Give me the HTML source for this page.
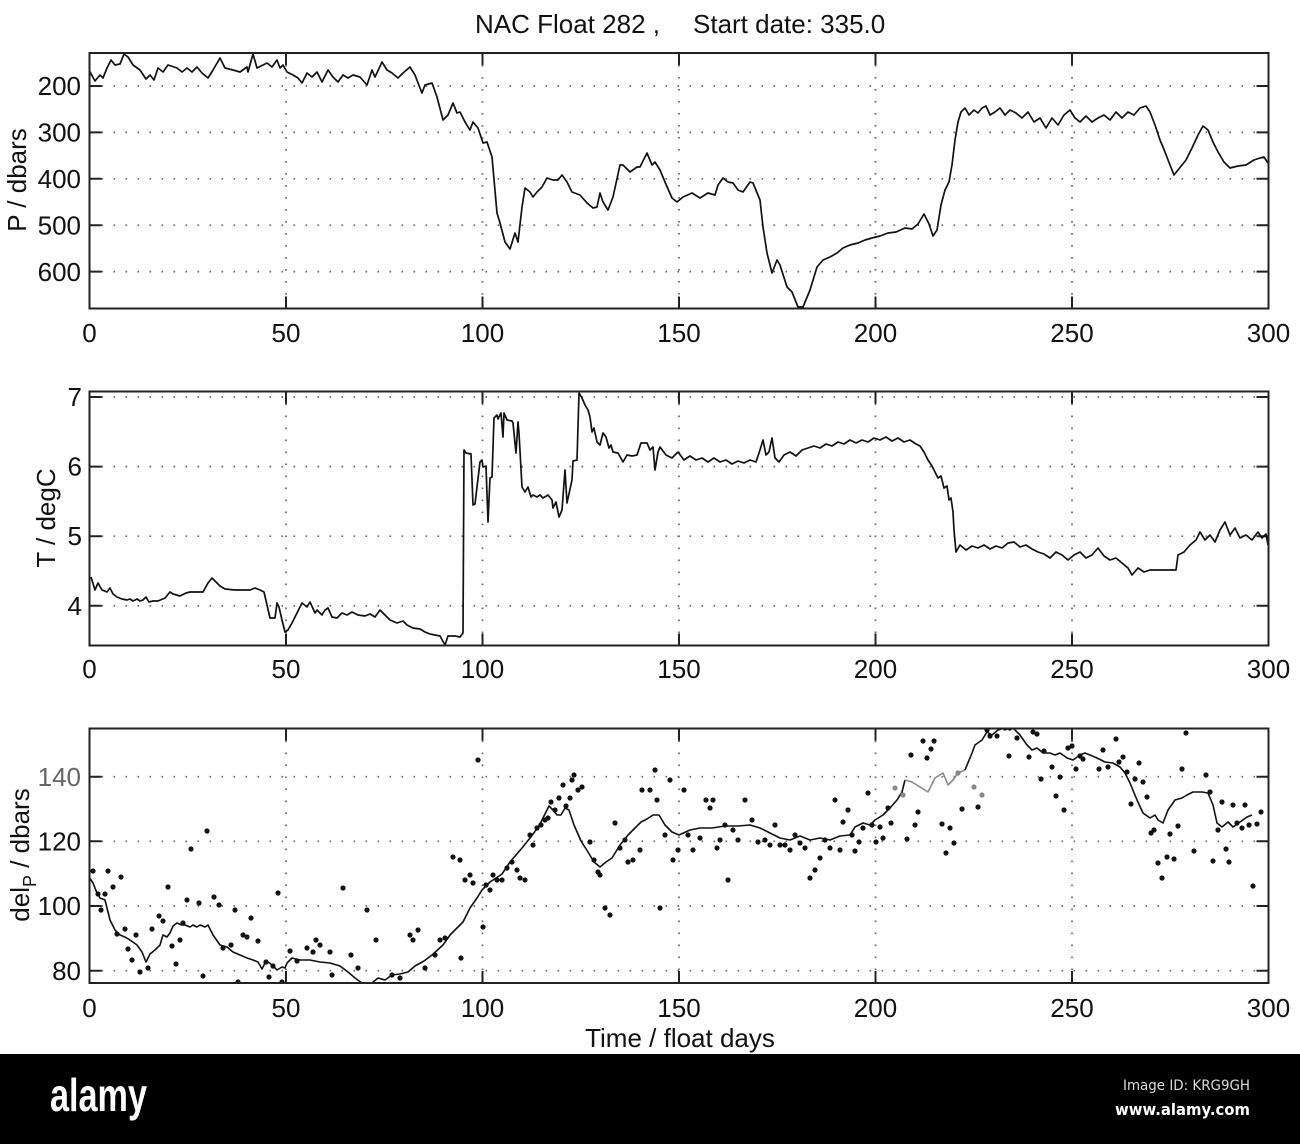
<!DOCTYPE html>
<html><head><meta charset="utf-8"><style>
html,body{margin:0;padding:0;background:#fff;}
svg{display:block;}
text{font-family:"Liberation Sans",Arial,sans-serif;fill:#111;}
</style></head><body>
<svg width="1300" height="1144" viewBox="0 0 1300 1144" xmlns="http://www.w3.org/2000/svg">
<defs>
<clipPath id="c1"><rect x="89.5" y="53" width="1179" height="255.5"/></clipPath>
<clipPath id="c2"><rect x="89.5" y="391.5" width="1179" height="254"/></clipPath>
<clipPath id="c3"><rect x="89.5" y="728.5" width="1179" height="254.5"/></clipPath>
</defs>
<rect width="1300" height="1144" fill="#fff"/>

<!-- Title -->
<text x="475" y="33" font-size="26">NAC Float 282 ,</text>
<text x="693" y="33" font-size="26">Start date: 335.0</text>

<!-- ============ PANEL 1 ============ -->
<g stroke="#666" stroke-width="1.7" stroke-dasharray="1.6 10.4" fill="none">
<line x1="89.5" y1="86" x2="1268.5" y2="86"/>
<line x1="89.5" y1="132.4" x2="1268.5" y2="132.4"/>
<line x1="89.5" y1="178.8" x2="1268.5" y2="178.8"/>
<line x1="89.5" y1="225.2" x2="1268.5" y2="225.2"/>
<line x1="89.5" y1="271.6" x2="1268.5" y2="271.6"/>
<line x1="286" y1="53" x2="286" y2="308.5"/>
<line x1="482.5" y1="53" x2="482.5" y2="308.5"/>
<line x1="679" y1="53" x2="679" y2="308.5"/>
<line x1="875.5" y1="53" x2="875.5" y2="308.5"/>
<line x1="1072" y1="53" x2="1072" y2="308.5"/>
</g>
<g stroke="#222" stroke-width="2">
<path d="M89.5 86h12M89.5 132.4h12M89.5 178.8h12M89.5 225.2h12M89.5 271.6h12M1268.5 86h-12M1268.5 132.4h-12M1268.5 178.8h-12M1268.5 225.2h-12M1268.5 271.6h-12"/>
<path d="M286 308.5v-12M482.5 308.5v-12M679 308.5v-12M875.5 308.5v-12M1072 308.5v-12M286 53v12M482.5 53v12M679 53v12M875.5 53v12M1072 53v12"/>
</g>
<polyline clip-path="url(#c1)" fill="none" stroke="#111" stroke-width="1.7" stroke-linejoin="round" points="
89,70 95,81 100,75 103,78 107,68 111,60 115,65 120,64 124,54 128,57 133,65 140,70 146,79 150,75 154,80 158,68 163,72 168,65 177,68 182,72 187,68 192,72 197,67 202,73 208,78 213,70 220,58 225,68 233,70 240,72 247,67 248,72 253,54 257,68 263,65 267,63 272,67 277,60 280,68 283,65 287,72 293,75 298,78 302,83 307,73 312,77 317,72 322,82 328,70 333,77 338,82 343,75 348,78 353,75 360,77 367,85 372,70 375,77 382,62 387,70 392,73 398,78 403,73 410,67 415,75 418,83 422,93 425,85 432,83 437,97 443,120 448,115 453,103 457,113 460,112 465,122 470,130 473,122 478,128 483,143 487,142 492,157 497,213 500,223 505,242 510,249 515,233 518,242 522,207 525,188 530,192 533,197 537,192 542,187 547,178 553,180 558,180 562,175 567,182 572,192 580,195 587,203 593,208 597,207 600,193 603,202 608,210 613,197 620,165 623,165 630,172 637,167 640,167 647,153 652,165 655,162 660,170 665,182 672,198 677,202 683,197 692,193 700,198 708,193 715,195 718,185 723,178 728,182 733,183 738,190 743,192 750,182 753,183 760,200 763,227 767,253 772,273 777,260 780,265 787,287 792,292 798,307 803,307 810,290 817,267 823,260 830,257 837,253 843,248 850,245 858,243 865,240 872,238 880,236 888,233 896,232 905,228 912,229 918,224 924,214 929,224 933,236 937,230 941,205 945,190 949,182 952,165 955,140 958,122 961,112 965,108 969,115 974,110 978,113 982,108 986,106 990,115 995,112 1000,108 1005,115 1010,110 1016,113 1022,118 1028,112 1034,122 1040,118 1046,128 1052,118 1058,125 1064,115 1070,110 1075,118 1080,122 1086,116 1092,122 1098,118 1104,115 1110,120 1116,112 1122,118 1128,112 1134,115 1140,108 1146,106 1150,112 1155,125 1160,140 1165,152 1170,165 1174,175 1178,170 1186,160 1192,148 1198,135 1203,126 1208,130 1213,142 1218,152 1224,162 1230,168 1238,166 1246,165 1254,160 1260,158 1264,157 1268,163"/>
<rect x="89.5" y="53" width="1179" height="255.5" fill="none" stroke="#222" stroke-width="2"/>
<g font-size="26" text-anchor="end">
<text x="81" y="95">200</text>
<text x="81" y="141.5">300</text>
<text x="81" y="188">400</text>
<text x="81" y="234.5">500</text>
<text x="81" y="281">600</text>
</g>
<g font-size="26" text-anchor="middle">
<text x="89.5" y="342">0</text>
<text x="286" y="342">50</text>
<text x="482.5" y="342">100</text>
<text x="679" y="342">150</text>
<text x="875.5" y="342">200</text>
<text x="1072" y="342">250</text>
<text x="1268.5" y="342">300</text>
</g>
<text font-size="26" text-anchor="middle" transform="translate(26,180) rotate(-90)">P / dbars</text>

<!-- ============ PANEL 2 ============ -->
<g stroke="#666" stroke-width="1.7" stroke-dasharray="1.6 10.4" fill="none">
<line x1="89.5" y1="397" x2="1268.5" y2="397"/>
<line x1="89.5" y1="466.6" x2="1268.5" y2="466.6"/>
<line x1="89.5" y1="536.2" x2="1268.5" y2="536.2"/>
<line x1="89.5" y1="605.8" x2="1268.5" y2="605.8"/>
<line x1="286" y1="391.5" x2="286" y2="645.5"/>
<line x1="482.5" y1="391.5" x2="482.5" y2="645.5"/>
<line x1="679" y1="391.5" x2="679" y2="645.5"/>
<line x1="875.5" y1="391.5" x2="875.5" y2="645.5"/>
<line x1="1072" y1="391.5" x2="1072" y2="645.5"/>
</g>
<g stroke="#222" stroke-width="2">
<path d="M89.5 397h12M89.5 466.6h12M89.5 536.2h12M89.5 605.8h12M1268.5 397h-12M1268.5 466.6h-12M1268.5 536.2h-12M1268.5 605.8h-12"/>
<path d="M286 645.5v-12M482.5 645.5v-12M679 645.5v-12M875.5 645.5v-12M1072 645.5v-12M286 391.5v12M482.5 391.5v12M679 391.5v12M875.5 391.5v12M1072 391.5v12"/>
</g>
<polyline clip-path="url(#c2)" fill="none" stroke="#111" stroke-width="1.7" stroke-linejoin="round" points="
91,577 95,590 98,583 102,590 107,592 110,588 113,594 117,597 122,599 127,600 130,599 133,601 137,599 140,601 143,600 146,597 149,602 153,601 158,601 165,598 170,592 173,594 180,596 186,593 190,592 203,592 208,583 212,578 216,582 220,586 225,589 235,590 250,590 255,588 260,590 264,592 267,605 270,618 275,618 277,603 279,607 282,620 285,632 288,630 292,623 297,613 302,603 307,607 310,602 315,613 317,610 322,615 325,610 328,608 332,617 337,618 342,613 347,615 352,612 358,615 365,616 370,614 375,617 380,610 385,615 390,620 397,623 403,621 407,625 413,628 420,629 425,632 430,634 440,636 445,645 448,636 455,636 460,637 463,633 464,450 466,453 471,454 473,505 475,504 477,487 480,462 482,460 483,467 486,466 488,522 490,478 492,477 494,418 497,415 498,419 501,413 503,437 504,413 507,420 512,421 513,423 516,453 518,422 519,433 522,487 525,492 528,487 531,497 533,495 537,497 540,495 543,498 548,495 552,500 553,508 556,502 559,517 562,510 565,470 567,503 572,480 573,461 577,460 579,393 582,398 585,405 588,410 590,417 592,432 594,428 597,442 600,445 603,433 606,437 609,448 611,445 613,452 618,453 623,462 627,455 632,456 637,455 641,443 647,443 650,450 653,447 655,470 658,452 660,447 666,455 672,458 678,452 684,460 690,456 696,460 702,458 708,462 714,458 720,462 726,460 732,464 738,461 744,463 750,460 756,462 760,450 763,440 766,455 769,452 772,438 775,458 779,462 784,455 790,452 796,456 802,450 808,448 814,446 820,448 826,444 832,446 838,442 844,444 850,440 856,443 862,440 868,442 874,438 880,440 886,437 892,441 898,438 904,442 910,440 916,444 920,446 924,452 928,460 932,466 935,472 938,478 941,476 944,488 947,486 949,500 951,498 953,512 954,530 956,552 960,545 966,550 972,546 978,548 984,545 990,549 996,546 1002,548 1008,543 1014,542 1020,547 1026,545 1032,549 1038,552 1044,554 1050,558 1056,552 1062,555 1068,560 1074,555 1080,552 1086,558 1092,555 1098,548 1104,556 1110,560 1116,558 1122,563 1128,568 1132,575 1138,568 1144,572 1150,570 1160,570 1170,570 1176,570 1178,555 1184,552 1190,545 1196,540 1200,532 1205,540 1210,535 1215,542 1220,530 1225,522 1230,535 1235,528 1240,538 1246,535 1252,540 1258,532 1262,538 1266,534 1268,545"/>
<rect x="89.5" y="391.5" width="1179" height="254" fill="none" stroke="#222" stroke-width="2"/>
<g font-size="26" text-anchor="end">
<text x="82" y="406">7</text>
<text x="82" y="475.6">6</text>
<text x="82" y="545.2">5</text>
<text x="82" y="614.8">4</text>
</g>
<g font-size="26" text-anchor="middle">
<text x="89.5" y="678">0</text>
<text x="286" y="678">50</text>
<text x="482.5" y="678">100</text>
<text x="679" y="678">150</text>
<text x="875.5" y="678">200</text>
<text x="1072" y="678">250</text>
<text x="1268.5" y="678">300</text>
</g>
<text font-size="26" text-anchor="middle" transform="translate(55,518) rotate(-90)">T / degC</text>

<!-- ============ PANEL 3 ============ -->
<g stroke="#666" stroke-width="1.7" stroke-dasharray="1.6 10.4" fill="none">
<line x1="89.5" y1="776.7" x2="1268.5" y2="776.7"/>
<line x1="89.5" y1="841.3" x2="1268.5" y2="841.3"/>
<line x1="89.5" y1="906" x2="1268.5" y2="906"/>
<line x1="89.5" y1="970.7" x2="1268.5" y2="970.7"/>
<line x1="286" y1="728.5" x2="286" y2="983"/>
<line x1="482.5" y1="728.5" x2="482.5" y2="983"/>
<line x1="679" y1="728.5" x2="679" y2="983"/>
<line x1="875.5" y1="728.5" x2="875.5" y2="983"/>
<line x1="1072" y1="728.5" x2="1072" y2="983"/>
</g>
<g stroke="#222" stroke-width="2">
<path d="M89.5 776.7h12M89.5 841.3h12M89.5 906h12M89.5 970.7h12M1268.5 776.7h-12M1268.5 841.3h-12M1268.5 906h-12M1268.5 970.7h-12"/>
<path d="M286 983v-12M482.5 983v-12M679 983v-12M875.5 983v-12M1072 983v-12M286 728.5v12M482.5 728.5v12M679 728.5v12M875.5 728.5v12M1072 728.5v12"/>
</g>
<g clip-path="url(#c3)">
<polyline fill="none" stroke="#111" stroke-width="1.6" stroke-linejoin="round" points="
89,877 93,883 97,893 100,898 105,900 110,920 115,930 120,935 125,937 130,940 137,945 142,952 146,962 150,954 155,950 160,945 163,935 167,937 170,933 173,926 177,923 182,925 185,925 190,927 193,925 197,927 200,925 205,927 208,925 213,935 220,945 227,947 233,952 240,955 247,958 253,960 258,962 262,969 265,963 268,962 272,965 277,970 282,967 285,968 287,963 292,958 300,960 310,960 320,962 330,963 340,966 348,972 355,978 362,983 372,983 378,978 385,980 392,975 400,974 408,972 415,966 424,961 432,955 443,945 450,935 457,928 463,922 470,908 477,898 482,890 490,882 496,878 502,874 510,862 516,855 522,848 530,838 536,830 541,822 546,812 549,806 553,810 557,815 561,815 565,808 569,810 574,825 581,841 588,852 594,862 600,867 606,862 612,858 620,845 628,835 635,828 641,822 647,819 653,815 659,815 665,825 672,832 679,835 690,830 700,828 712,828 725,826 738,826 750,825 760,828 770,833 780,838 790,840 800,836 810,840 820,838 830,840 840,836 850,835 855,827 863,823 870,825 875,820 883,815 890,808 897,800 902,792 905,780"/>
<polyline fill="none" stroke="#888" stroke-width="1.6" stroke-linejoin="round" points="905,780 912,782 920,787 928,792 935,778 943,773 948,785 953,780 958,773 965,770"/>
<polyline fill="none" stroke="#111" stroke-width="1.6" stroke-linejoin="round" points="
965,770 972,753 975,745 982,740 987,732 992,735 998,730 1005,728 1010,730 1013,728 1020,735 1027,745 1032,750 1037,748 1043,753 1050,753 1055,755 1060,753 1067,758 1073,760 1080,755 1085,753 1090,755 1097,758 1105,762 1113,763 1120,767 1125,773 1130,783 1137,800 1143,813 1150,818 1155,815 1158,820 1163,823 1168,810 1175,800 1182,798 1187,795 1193,792 1202,792 1208,793 1213,805 1217,823 1222,827 1228,822 1233,827 1240,822 1247,817 1252,815"/>
<g fill="#111">
<circle cx="93" cy="871" r="2.6"/><circle cx="98" cy="894" r="2.6"/><circle cx="101" cy="910" r="2.6"/><circle cx="105" cy="894" r="2.6"/><circle cx="108" cy="871" r="2.6"/><circle cx="113" cy="887" r="2.6"/><circle cx="117" cy="934" r="2.6"/><circle cx="121" cy="877" r="2.6"/><circle cx="125" cy="929" r="2.6"/><circle cx="128" cy="949" r="2.6"/><circle cx="132" cy="960" r="2.6"/><circle cx="136" cy="935" r="2.6"/><circle cx="140" cy="972" r="2.6"/><circle cx="148" cy="968" r="2.6"/><circle cx="152" cy="929" r="2.6"/><circle cx="159" cy="916" r="2.6"/><circle cx="163" cy="921" r="2.6"/><circle cx="168" cy="887" r="2.6"/><circle cx="172" cy="946" r="2.6"/><circle cx="176" cy="964" r="2.6"/><circle cx="180" cy="940" r="2.6"/><circle cx="183" cy="923" r="2.6"/><circle cx="187" cy="900" r="2.6"/><circle cx="191" cy="849" r="2.6"/><circle cx="199" cy="903" r="2.6"/><circle cx="203" cy="976" r="2.6"/><circle cx="207" cy="831" r="2.6"/><circle cx="214" cy="897" r="2.6"/><circle cx="219" cy="905" r="2.6"/><circle cx="223" cy="948" r="2.6"/><circle cx="231" cy="945" r="2.6"/><circle cx="235" cy="910" r="2.6"/><circle cx="238" cy="982" r="2.6"/><circle cx="243" cy="935" r="2.6"/><circle cx="247" cy="937" r="2.6"/><circle cx="251" cy="918" r="2.6"/><circle cx="258" cy="941" r="2.6"/><circle cx="266" cy="962" r="2.6"/><circle cx="269" cy="977" r="2.6"/><circle cx="273" cy="966" r="2.6"/><circle cx="278" cy="893" r="2.6"/><circle cx="282" cy="982" r="2.6"/><circle cx="290" cy="951" r="2.6"/><circle cx="297" cy="961" r="2.6"/>
<circle cx="307" cy="948" r="2.6"/><circle cx="313" cy="952" r="2.6"/><circle cx="316" cy="940" r="2.6"/><circle cx="320" cy="945" r="2.6"/><circle cx="330" cy="952" r="2.6"/><circle cx="332" cy="975" r="2.6"/><circle cx="343" cy="888" r="2.6"/><circle cx="351" cy="955" r="2.6"/><circle cx="358" cy="968" r="2.6"/><circle cx="367" cy="910" r="2.6"/><circle cx="376" cy="940" r="2.6"/><circle cx="392" cy="975" r="2.6"/><circle cx="400" cy="978" r="2.6"/><circle cx="410" cy="935" r="2.6"/><circle cx="413" cy="940" r="2.6"/><circle cx="418" cy="930" r="2.6"/><circle cx="425" cy="968" r="2.6"/><circle cx="435" cy="955" r="2.6"/><circle cx="440" cy="940" r="2.6"/><circle cx="445" cy="938" r="2.6"/><circle cx="461" cy="958" r="2.6"/>
<circle cx="453" cy="857" r="2.6"/><circle cx="460" cy="860" r="2.6"/><circle cx="465" cy="880" r="2.6"/><circle cx="470" cy="875" r="2.6"/><circle cx="473" cy="883" r="2.6"/><circle cx="478" cy="760" r="2.6"/><circle cx="483" cy="927" r="2.6"/><circle cx="486" cy="885" r="2.6"/><circle cx="490" cy="890" r="2.6"/><circle cx="493" cy="875" r="2.6"/><circle cx="497" cy="880" r="2.6"/><circle cx="502" cy="880" r="2.6"/><circle cx="507" cy="868" r="2.6"/><circle cx="512" cy="862" r="2.6"/><circle cx="517" cy="870" r="2.6"/><circle cx="520" cy="878" r="2.6"/><circle cx="525" cy="880" r="2.6"/><circle cx="530" cy="835" r="2.6"/><circle cx="533" cy="845" r="2.6"/><circle cx="537" cy="828" r="2.6"/><circle cx="541" cy="825" r="2.6"/><circle cx="545" cy="820" r="2.6"/><circle cx="548" cy="818" r="2.6"/><circle cx="551" cy="802" r="2.6"/><circle cx="555" cy="810" r="2.6"/><circle cx="559" cy="798" r="2.6"/><circle cx="563" cy="785" r="2.6"/><circle cx="566" cy="806" r="2.6"/><circle cx="570" cy="798" r="2.6"/><circle cx="572" cy="780" r="2.6"/><circle cx="574" cy="775" r="2.6"/><circle cx="578" cy="790" r="2.6"/><circle cx="582" cy="787" r="2.6"/><circle cx="590" cy="842" r="2.6"/><circle cx="594" cy="860" r="2.6"/><circle cx="598" cy="872" r="2.6"/><circle cx="600" cy="875" r="2.6"/><circle cx="605" cy="908" r="2.6"/><circle cx="610" cy="915" r="2.6"/><circle cx="615" cy="823" r="2.6"/><circle cx="620" cy="848" r="2.6"/><circle cx="625" cy="840" r="2.6"/><circle cx="628" cy="862" r="2.6"/><circle cx="633" cy="860" r="2.6"/><circle cx="640" cy="850" r="2.6"/><circle cx="642" cy="790" r="2.6"/><circle cx="650" cy="790" r="2.6"/><circle cx="655" cy="770" r="2.6"/><circle cx="657" cy="800" r="2.6"/><circle cx="660" cy="908" r="2.6"/><circle cx="665" cy="835" r="2.6"/><circle cx="670" cy="780" r="2.6"/><circle cx="673" cy="860" r="2.6"/><circle cx="678" cy="850" r="2.6"/><circle cx="684" cy="790" r="2.6"/><circle cx="688" cy="835" r="2.6"/><circle cx="693" cy="850" r="2.6"/><circle cx="700" cy="838" r="2.6"/><circle cx="706" cy="800" r="2.6"/><circle cx="710" cy="808" r="2.6"/><circle cx="713" cy="800" r="2.6"/><circle cx="717" cy="848" r="2.6"/><circle cx="720" cy="840" r="2.6"/><circle cx="725" cy="825" r="2.6"/><circle cx="728" cy="880" r="2.6"/><circle cx="733" cy="830" r="2.6"/><circle cx="738" cy="840" r="2.6"/><circle cx="745" cy="800" r="2.6"/><circle cx="752" cy="820" r="2.6"/><circle cx="758" cy="842" r="2.6"/><circle cx="765" cy="840" r="2.6"/><circle cx="770" cy="845" r="2.6"/><circle cx="775" cy="825" r="2.6"/><circle cx="780" cy="845" r="2.6"/><circle cx="785" cy="845" r="2.6"/><circle cx="790" cy="850" r="2.6"/><circle cx="795" cy="835" r="2.6"/><circle cx="800" cy="843" r="2.6"/><circle cx="805" cy="848" r="2.6"/><circle cx="810" cy="878" r="2.6"/><circle cx="815" cy="870" r="2.6"/><circle cx="820" cy="858" r="2.6"/><circle cx="825" cy="840" r="2.6"/><circle cx="830" cy="848" r="2.6"/><circle cx="835" cy="800" r="2.6"/><circle cx="840" cy="850" r="2.6"/><circle cx="843" cy="822" r="2.6"/><circle cx="848" cy="810" r="2.6"/>
<circle cx="852" cy="835" r="2.6"/><circle cx="855" cy="851" r="2.6"/><circle cx="859" cy="842" r="2.6"/><circle cx="863" cy="828" r="2.6"/><circle cx="868" cy="793" r="2.6"/><circle cx="872" cy="825" r="2.6"/><circle cx="876" cy="842" r="2.6"/><circle cx="880" cy="827" r="2.6"/><circle cx="883" cy="838" r="2.6"/><circle cx="888" cy="808" r="2.6"/><circle cx="891" cy="823" r="2.6"/><circle cx="907" cy="839" r="2.6"/><circle cx="911" cy="755" r="2.6"/><circle cx="915" cy="825" r="2.6"/><circle cx="918" cy="812" r="2.6"/><circle cx="923" cy="741" r="2.6"/><circle cx="927" cy="758" r="2.6"/><circle cx="931" cy="749" r="2.6"/><circle cx="934" cy="741" r="2.6"/><circle cx="942" cy="824" r="2.6"/><circle cx="946" cy="853" r="2.6"/><circle cx="950" cy="828" r="2.6"/><circle cx="954" cy="843" r="2.6"/><circle cx="962" cy="809" r="2.6"/><circle cx="978" cy="807" r="2.6"/><circle cx="987" cy="730" r="2.6"/><circle cx="990" cy="736" r="2.6"/><circle cx="997" cy="736" r="2.6"/><circle cx="1005" cy="728" r="2.6"/><circle cx="1009" cy="756" r="2.6"/><circle cx="1017" cy="738" r="2.6"/><circle cx="1029" cy="757" r="2.6"/><circle cx="1033" cy="732" r="2.6"/><circle cx="1037" cy="734" r="2.6"/><circle cx="1041" cy="779" r="2.6"/><circle cx="1044" cy="751" r="2.6"/><circle cx="1052" cy="767" r="2.6"/><circle cx="1056" cy="796" r="2.6"/><circle cx="1060" cy="777" r="2.6"/><circle cx="1064" cy="810" r="2.6"/><circle cx="1068" cy="748" r="2.6"/><circle cx="1072" cy="746" r="2.6"/><circle cx="1076" cy="769" r="2.6"/><circle cx="1080" cy="756" r="2.6"/><circle cx="1083" cy="759" r="2.6"/><circle cx="1099" cy="769" r="2.6"/><circle cx="1103" cy="750" r="2.6"/><circle cx="1108" cy="767" r="2.6"/><circle cx="1116" cy="739" r="2.6"/><circle cx="1119" cy="762" r="2.6"/><circle cx="1123" cy="757" r="2.6"/><circle cx="1127" cy="772" r="2.6"/><circle cx="1131" cy="804" r="2.6"/><circle cx="1135" cy="779" r="2.6"/><circle cx="1139" cy="763" r="2.6"/><circle cx="1143" cy="782" r="2.6"/><circle cx="1147" cy="797" r="2.6"/><circle cx="1151" cy="833" r="2.6"/><circle cx="1154" cy="830" r="2.6"/><circle cx="1158" cy="863" r="2.6"/><circle cx="1162" cy="878" r="2.6"/><circle cx="1167" cy="857" r="2.6"/><circle cx="1170" cy="834" r="2.6"/><circle cx="1174" cy="859" r="2.6"/><circle cx="1178" cy="826" r="2.6"/><circle cx="1182" cy="769" r="2.6"/><circle cx="1186" cy="733" r="2.6"/><circle cx="1194" cy="851" r="2.6"/><circle cx="1206" cy="775" r="2.6"/><circle cx="1210" cy="792" r="2.6"/><circle cx="1213" cy="861" r="2.6"/><circle cx="1218" cy="830" r="2.6"/><circle cx="1222" cy="802" r="2.6"/><circle cx="1226" cy="849" r="2.6"/><circle cx="1229" cy="862" r="2.6"/><circle cx="1233" cy="805" r="2.6"/><circle cx="1237" cy="823" r="2.6"/><circle cx="1242" cy="828" r="2.6"/><circle cx="1245" cy="805" r="2.6"/><circle cx="1249" cy="825" r="2.6"/><circle cx="1253" cy="886" r="2.6"/><circle cx="1257" cy="824" r="2.6"/><circle cx="1261" cy="812" r="2.6"/>
</g>
<g fill="#888">
<circle cx="895" cy="788" r="2.6"/><circle cx="903" cy="795" r="2.6"/><circle cx="958" cy="773" r="2.6"/><circle cx="974" cy="787" r="2.6"/><circle cx="982" cy="795" r="2.6"/>
</g>
</g>
<rect x="89.5" y="728.5" width="1179" height="254.5" fill="none" stroke="#222" stroke-width="2"/>
<g font-size="26" text-anchor="end">
<text x="81" y="786" style="fill:#666">140</text>
<text x="81" y="850.5">120</text>
<text x="81" y="915">100</text>
<text x="81" y="980">80</text>
</g>
<g font-size="26" text-anchor="middle">
<text x="89.5" y="1017">0</text>
<text x="286" y="1017">50</text>
<text x="482.5" y="1017">100</text>
<text x="679" y="1017">150</text>
<text x="875.5" y="1017">200</text>
<text x="1072" y="1017">250</text>
<text x="1268.5" y="1017">300</text>
</g>
<text font-size="26" text-anchor="middle" transform="translate(29,855) rotate(-90)">del<tspan font-size="18" dy="7">P</tspan><tspan dy="-7"> / dbars</tspan></text>
<text x="680" y="1047" font-size="26" text-anchor="middle">Time / float days</text>

<!-- Footer -->
<rect x="0" y="1054" width="1300" height="90" fill="#000"/>
<text x="50" y="1111" font-size="46" font-weight="bold" textLength="97" lengthAdjust="spacingAndGlyphs" style="fill:#fff">alamy</text>
<text x="1250" y="1090" font-size="14" text-anchor="end" textLength="127" lengthAdjust="spacingAndGlyphs" style="fill:#ddd;font-family:'DejaVu Sans','Liberation Sans',sans-serif">Image ID: KRG9GH</text>
<text x="1250" y="1115" font-size="16" font-weight="bold" text-anchor="end" textLength="135" lengthAdjust="spacingAndGlyphs" style="fill:#fff;font-family:'DejaVu Sans','Liberation Sans',sans-serif">www.alamy.com</text>
</svg>
</body></html>
